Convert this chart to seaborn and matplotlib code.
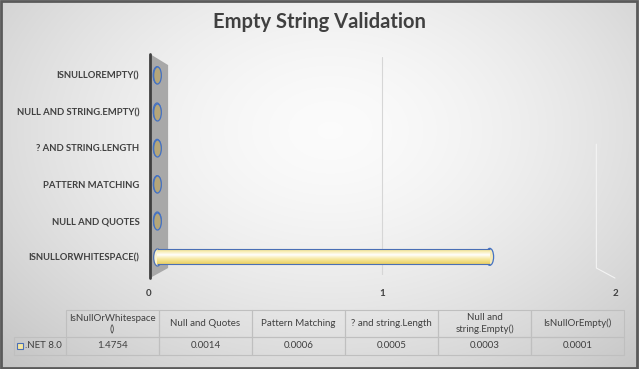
import numpy as np
import pandas as pd
import matplotlib
matplotlib.use("Agg")
import matplotlib.pyplot as plt
import matplotlib.transforms as mtransforms
from matplotlib.patches import Polygon, Rectangle
from matplotlib.path import Path
import seaborn as sns

# Data
methods = ["IsNullOrWhitespace()", "Null and Quotes", "Pattern Matching",
           "? and string.Length", "Null and string.Empty()", "IsNullOrEmpty()"]
table_headers = ["IsNullOrWhitespace\n()", "Null and Quotes", "Pattern Matching",
                 "? and string.Length", "Null and\nstring.Empty()", "IsNullOrEmpty()"]
net8_values = [1.4754, 0.0014, 0.0006, 0.0005, 0.0003, 0.0001]
series_name = ".NET 8.0"
x_ticks = [0, 1, 2]

df = pd.DataFrame({"method": methods, "value": net8_values})
# chart shows the first table column at the bottom
order = methods[::-1]

sns.set_theme(style="white")
plt.rcParams["font.family"] = ["Lato", "DejaVu Sans"]

fig = plt.figure(figsize=(6.39, 3.69), dpi=100)
W, H = 639, 369

# background gradient (light centre, grey edges)
bg = fig.add_axes([0, 0, 1, 1], zorder=-5)
yy, xx = np.mgrid[0:H, 0:W]
r = np.clip(np.sqrt(((xx - 330) / 430.0) ** 2 + ((yy - 130) / 300.0) ** 2), 0, 1.2)
shade = 0.985 - 0.19 * r ** 1.6
bg.imshow(np.dstack([shade] * 3), aspect="auto", extent=[0, 1, 0, 1], origin="upper")
bg.axis("off")
fig.patches.append(Rectangle((0.002, 0.003), 0.995, 0.994, transform=fig.transFigure,
                             fill=False, edgecolor="#5a5a5a", linewidth=2))

def px(x0, y0, x1, y1):
    return [x0 / W, 1 - y1 / H, (x1 - x0) / W, (y1 - y0) / H]

ax = fig.add_axes(px(149, 57, 615, 275))
ax.patch.set_alpha(0)

# back wall / grid decoration
wall = Polygon([(0.002, 1.014), (0.041, 0.963), (0.041, 0.032), (0.002, -0.014)],
               closed=True, transform=ax.transAxes, facecolor="#a8a8a8",
               edgecolor="none", zorder=1, clip_on=False)
ax.add_patch(wall)
ax.plot([0.002, 0.002], [1.014, -0.014], transform=ax.transAxes, color="#3f3f3f",
        lw=2, zorder=2, clip_on=False)
ax.axvline(1, color="#d6d6d6", lw=0.8, zorder=0)
ax.plot([0.96, 0.96, 1.0], [0.6, 0.032, -0.014], transform=ax.transAxes,
        color="#f4f4f4", lw=0.8, zorder=0, clip_on=False)

n_before = len(ax.patches)
sns.barplot(data=df, x="value", y="method", order=order, orient="h", ax=ax,
            width=0.42, color="#f7e7a0", edgecolor="none", linewidth=0,
            zorder=3)
bars = ax.patches[n_before:]

ax.set_xlim(0, 2)
ax.set_ylim(5.5, -0.5)

# series sits a little behind the front plane in the original 3D chart:
# shifted right and slightly foreshortened
x0d = ax.transData.transform((0, 0))[0]
depth = mtransforms.Affine2D().translate(-x0d, 0).scale(0.968, 1).translate(x0d + 8, 0)
tser = ax.transData + depth

grad = np.linspace(0, 1, 64)
grad = 1 - np.abs(grad - 0.42) ** 0.9 * 1.4
gcmap = matplotlib.colors.LinearSegmentedColormap.from_list(
    "cyl", ["#b29a5e", "#e9cf63", "#f7e8a0", "#ffffff"])
for patch in bars:
    patch.set_transform(tser)
    x0, y0 = patch.get_x(), patch.get_y()
    w, h = patch.get_width(), patch.get_height()
    if w > 0.01:
        im = ax.imshow(grad[:, None], cmap=gcmap, vmin=-0.3, vmax=1,
                       extent=[x0, x0 + w, y0 + h, y0], aspect="auto", zorder=3.5,
                       transform=tser)
        im.set_clip_path(patch)
        patch.set_facecolor("none")
        # outline along the long sides of the cylinder
        for yedge in (y0, y0 + h):
            ax.plot([x0, x0 + w], [yedge, yedge], color="#4a6fb5", lw=0.8,
                    zorder=3.6, transform=tser, solid_capstyle="butt")
    else:
        patch.set_visible(False)

# end caps of the cylinders
ell = Path.unit_circle().transformed(mtransforms.Affine2D().scale(0.45, 1))
ypos = [order.index(m) for m in df["method"]]
big = [v > 0.01 for v in net8_values]
start_caps = ax.scatter([0 for b in big if b], [y for y, b in zip(ypos, big) if b],
                        marker=ell, s=150, facecolor="#fbf3cf",
                        edgecolor="#4a6fb5", linewidth=0.9, zorder=3.2)
start_caps.set_offset_transform(tser)
caps = ax.scatter(df["value"], ypos, marker=ell, s=150,
                  facecolor=["#f6eab8" if b else "#b5a679" for b in big],
                  edgecolor="#4472c4", linewidth=0.9,
                  zorder=3.2)
caps.set_offset_transform(tser)
# small values: caps drawn on top
small = ax.scatter([v for v, b in zip(net8_values, big) if not b],
                   [y for y, b in zip(ypos, big) if not b], marker=ell, s=150,
                   facecolor="#b5a679", edgecolor="#4472c4", linewidth=0.9, zorder=4)
small.set_offset_transform(tser)

ax.set_xticks(x_ticks)
ax.set_xticklabels([str(t) for t in x_ticks], fontsize=7, fontweight="bold",
                   color="#404040")
ax.set_yticks(range(len(order)))
ax.set_yticklabels([m.upper() for m in order], fontsize=6.8, fontweight="bold",
                   color="#404040")
ax.tick_params(axis="x", length=0, pad=10)
ax.tick_params(axis="y", length=0, pad=7)
ax.set_xlabel("")
ax.set_ylabel("")
for s in ax.spines.values():
    s.set_visible(False)

# data table under the chart
tbl = ax.table(cellText=[["    " + series_name] + [f"{v:.4f}" for v in net8_values]],
               colLabels=[""] + table_headers, cellLoc="center",
               bbox=[(14 - 149) / 466, (275 - 355) / 218, (624 - 14) / 466, 45 / 218])
tbl.auto_set_font_size(False)
for (row, col), cell in tbl.get_celld().items():
    cell.set_edgecolor("#bfbfbf")
    cell.set_linewidth(0.8)
    cell.set_facecolor("none")
    cell.get_text().set_fontsize(7)
    cell.get_text().set_color("#404040")
    cell.set_height(0.27 if row == 0 else 0.18)
    cell.set_width(0.56 if col == 0 else 1.0)
    if row == 0 and col == 0:
        cell.visible_edges = ""
    if row == 1 and col == 0:
        cell.get_text().set_horizontalalignment("left")
        cell.PAD = 0.02
ax.plot([(20 - 149) / 466], [(275 - 346) / 218], marker="s", ms=5,
        markerfacecolor="#f7e7a0", markeredgecolor="#4a6fb5", mew=0.8,
        transform=ax.transAxes, clip_on=False, zorder=6)

fig.text(0.5, 1 - 22 / H, "Empty String Validation", ha="center", va="center",
         fontsize=14.5, fontweight="bold", color="#404040")

fig.savefig("out.png", dpi=100)
